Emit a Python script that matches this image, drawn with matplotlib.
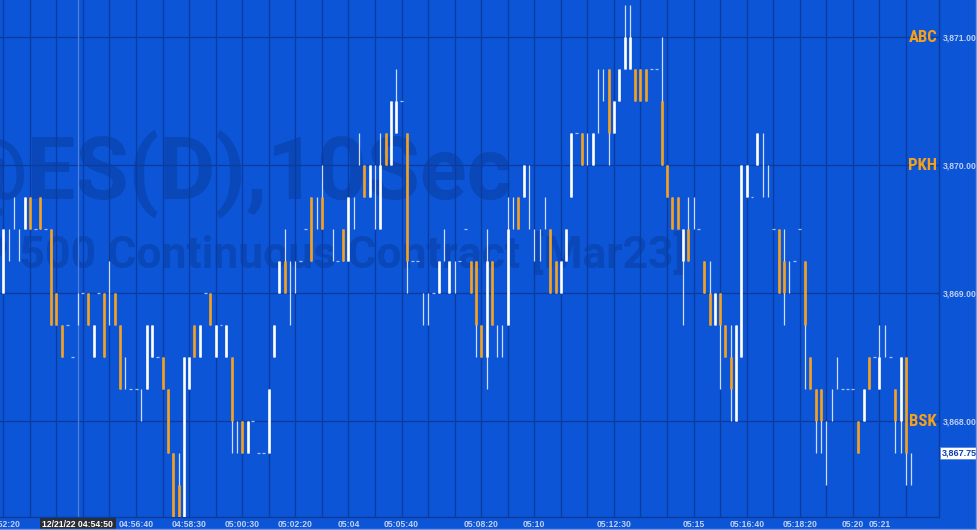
import matplotlib
matplotlib.use("Agg")
import matplotlib.pyplot as plt
import numpy as np
from matplotlib.lines import Line2D

nan = float("nan")

# ---------------- data (10-second bars, @ES) ----------------
opens = [
    3869.00, 3869.25, 3869.50, 3869.50, 3869.50, 3869.75, 3869.50, 3869.75, 3869.50, 3869.50,
    3869.00, 3868.75, 3868.75, 3868.50, 3868.75, 3869.00, 3869.00, 3868.50, 3869.00, 3869.00,
    3869.00, 3869.00, 3868.75, 3868.25, 3868.25, 3868.25, 3868.25, 3868.25, 3868.50, 3868.50,
    3868.50, 3868.25, 3867.75, 3867.50, 3867.25, 3868.25, 3868.75, 3868.50, 3869.00, 3869.00,
    3868.50, 3868.75, 3868.50, 3868.50, 3868.00, 3868.00, 3867.75, 3868.00, 3867.75, 3867.75,
    3867.75, 3868.50, 3869.00, 3869.25, 3869.25, 3869.25, 3869.25, 3869.50, 3869.75, 3869.75,
    3869.75, nan,     3869.50, 3869.25, 3869.50, 3869.25, 3869.75, 3870.25, 3870.00, 3869.75,
    3870.00, 3869.50, 3870.25, 3870.00, 3870.25, 3870.50, 3870.25, 3869.25, 3869.25, 3869.00,
    3869.00, 3869.00, 3869.00, 3869.50, 3869.00, 3869.25, 3869.25, 3869.50, 3869.25, 3869.25,
    3868.75, 3868.50, 3869.25, 3868.75, 3868.75, 3868.75, 3869.75, 3869.75, 3869.75, 3870.00,
    3869.50, 3869.50, 3869.75, 3869.50, 3869.25, 3869.00, 3869.25, 3869.75, 3870.25, 3870.25,
    3870.25, 3870.00, 3870.75, 3870.75, 3870.75, 3870.25, 3870.50, 3870.75, 3870.75, 3870.75,
    3870.75, 3870.75, 3870.75, 3870.75, 3870.50, 3870.00, 3869.75, 3869.75, 3869.25, 3869.50,
    3869.75, 3869.50, 3869.25, 3869.00, 3868.75, 3869.00, 3868.75, 3868.50, 3868.00, 3868.50,
    3869.75, 3869.75, 3870.00, 3870.25, 3870.00, 3869.50, 3869.50, 3869.25, 3869.25, 3869.25,
    3869.50, 3869.25, 3868.50, 3868.25, 3868.25, 3868.00, 3868.25, 3868.50, 3868.25, 3868.25,
    3868.25, 3868.00, 3868.00, 3868.50, 3868.50, 3868.25, 3868.75, 3868.50, 3868.25, 3868.00,
    3868.50, 3867.75,
]
highs = [
    3869.50, 3869.50, 3869.75, 3869.50, 3869.75, 3869.75, 3869.50, 3869.75, 3869.50, 3869.50,
    3869.00, 3868.75, 3868.75, 3868.50, 3869.00, 3869.00, 3869.00, 3868.75, 3869.00, 3869.00,
    3869.25, 3869.00, 3868.75, 3868.50, 3868.25, 3868.25, 3868.25, 3868.75, 3868.75, 3868.50,
    3868.50, 3868.25, 3867.75, 3867.75, 3868.50, 3868.50, 3868.75, 3868.75, 3869.00, 3869.00,
    3868.75, 3868.75, 3868.75, 3868.50, 3868.00, 3868.00, 3868.00, 3868.00, 3867.75, 3867.75,
    3868.25, 3868.75, 3869.25, 3869.50, 3869.25, 3869.25, 3869.25, 3869.50, 3869.75, 3869.75,
    3870.00, nan,     3869.50, 3869.25, 3869.50, 3869.75, 3869.75, 3870.25, 3870.00, 3870.00,
    3870.00, 3870.25, 3870.25, 3870.50, 3870.75, 3870.50, 3870.25, 3869.25, 3869.25, 3869.00,
    3869.00, 3869.00, 3869.25, 3869.50, 3869.25, 3869.25, 3869.25, 3869.50, 3869.25, 3869.25,
    3868.75, 3869.50, 3869.25, 3868.75, 3868.75, 3869.75, 3869.75, 3869.75, 3870.00, 3870.00,
    3869.50, 3869.50, 3869.75, 3869.50, 3869.25, 3869.25, 3869.50, 3870.25, 3870.25, 3870.25,
    3870.25, 3870.25, 3870.75, 3870.75, 3870.75, 3870.50, 3870.75, 3871.25, 3871.25, 3870.75,
    3870.75, 3870.75, 3870.75, 3870.75, 3871.00, 3870.00, 3869.75, 3869.75, 3869.50, 3869.75,
    3869.75, 3869.50, 3869.25, 3869.25, 3869.00, 3869.00, 3868.75, 3868.75, 3868.75, 3870.00,
    3870.00, 3869.75, 3870.25, 3870.25, 3870.00, 3869.50, 3869.50, 3869.50, 3869.25, 3869.25,
    3869.50, 3869.25, 3868.50, 3868.25, 3868.25, 3868.00, 3868.25, 3868.50, 3868.25, 3868.25,
    3868.25, 3868.00, 3868.25, 3868.50, 3868.50, 3868.75, 3868.75, 3868.50, 3868.25, 3868.50,
    3868.50, 3867.75,
]
lows = [
    3869.00, 3869.25, 3869.50, 3869.25, 3869.50, 3869.50, 3869.50, 3869.50, 3869.50, 3868.75,
    3868.75, 3868.50, 3868.75, 3868.50, 3868.75, 3869.00, 3868.75, 3868.50, 3869.00, 3868.50,
    3868.75, 3868.75, 3868.25, 3868.25, 3868.25, 3868.25, 3868.00, 3868.25, 3868.50, 3868.50,
    3868.25, 3867.75, 3867.25, 3867.25, 3867.25, 3868.25, 3868.50, 3868.50, 3869.00, 3868.75,
    3868.50, 3868.75, 3868.50, 3867.75, 3867.75, 3867.75, 3867.75, 3868.00, 3867.75, 3867.75,
    3867.75, 3868.50, 3869.00, 3869.00, 3868.75, 3869.00, 3869.25, 3869.50, 3869.25, 3869.50,
    3869.50, nan,     3869.25, 3869.25, 3869.25, 3869.25, 3869.50, 3870.00, 3869.75, 3869.75,
    3869.50, 3869.50, 3870.00, 3870.00, 3870.25, 3870.50, 3869.00, 3869.25, 3869.25, 3868.75,
    3868.75, 3869.00, 3869.00, 3869.25, 3869.00, 3869.00, 3869.25, 3869.50, 3869.00, 3868.50,
    3868.50, 3868.25, 3868.75, 3868.50, 3868.50, 3868.75, 3869.50, 3869.50, 3869.75, 3869.50,
    3869.25, 3869.25, 3869.50, 3869.00, 3869.00, 3869.00, 3869.25, 3869.75, 3870.25, 3870.00,
    3870.00, 3870.00, 3870.25, 3870.50, 3870.00, 3870.25, 3870.50, 3870.75, 3870.75, 3870.50,
    3870.50, 3870.50, 3870.75, 3870.75, 3870.00, 3869.75, 3869.50, 3869.50, 3868.75, 3869.25,
    3869.50, 3869.50, 3869.00, 3868.75, 3868.75, 3868.25, 3868.50, 3868.00, 3868.00, 3868.50,
    3869.75, 3869.75, 3870.00, 3869.75, 3869.75, 3869.50, 3869.00, 3868.75, 3869.00, 3869.25,
    3869.50, 3868.25, 3868.25, 3867.75, 3867.75, 3867.50, 3868.00, 3868.25, 3868.25, 3868.25,
    3868.25, 3867.75, 3868.00, 3868.25, 3868.50, 3868.25, 3868.50, 3868.50, 3867.75, 3867.75,
    3867.50, 3867.50,
]
closes = [
    3869.50, 3869.25, 3869.50, 3869.50, 3869.75, 3869.50, 3869.50, 3869.50, 3869.50, 3868.75,
    3868.75, 3868.50, 3868.75, 3868.50, 3868.75, 3869.00, 3868.75, 3868.75, 3869.00, 3868.50,
    3869.00, 3868.75, 3868.25, 3868.25, 3868.25, 3868.25, 3868.25, 3868.75, 3868.75, 3868.50,
    3868.25, 3867.75, 3867.25, 3867.25, 3868.50, 3868.50, 3868.50, 3868.75, 3869.00, 3868.75,
    3868.75, 3868.75, 3868.75, 3868.00, 3868.00, 3867.75, 3868.00, 3868.00, 3867.75, 3867.75,
    3868.25, 3868.75, 3869.25, 3869.00, 3869.25, 3869.25, 3869.25, 3869.50, 3869.25, 3869.75,
    3869.50, nan,     3869.50, 3869.25, 3869.25, 3869.75, 3869.75, 3870.25, 3869.75, 3870.00,
    3870.00, 3870.00, 3870.00, 3870.50, 3870.50, 3870.50, 3869.25, 3869.25, 3869.25, 3869.00,
    3869.00, 3869.00, 3869.25, 3869.50, 3869.25, 3869.25, 3869.25, 3869.50, 3869.00, 3868.75,
    3868.50, 3869.25, 3868.75, 3868.75, 3868.75, 3869.50, 3869.75, 3869.50, 3870.00, 3870.00,
    3869.50, 3869.50, 3869.75, 3869.00, 3869.00, 3869.25, 3869.50, 3870.25, 3870.25, 3870.00,
    3870.25, 3870.25, 3870.75, 3870.75, 3870.25, 3870.50, 3870.75, 3871.00, 3871.00, 3870.50,
    3870.50, 3870.50, 3870.75, 3870.75, 3870.00, 3869.75, 3869.50, 3869.50, 3869.50, 3869.25,
    3869.75, 3869.50, 3869.00, 3868.75, 3869.00, 3868.75, 3868.50, 3868.25, 3868.75, 3870.00,
    3870.00, 3869.75, 3870.25, 3870.25, 3870.00, 3869.50, 3869.00, 3869.00, 3869.25, 3869.25,
    3869.50, 3868.75, 3868.25, 3868.00, 3868.00, 3868.00, 3868.25, 3868.50, 3868.25, 3868.25,
    3868.25, 3867.75, 3868.25, 3868.25, 3868.50, 3868.50, 3868.75, 3868.50, 3868.00, 3868.50,
    3867.75, 3867.75,
]

time_tick_bars = [0, 14, 25, 35, 45, 55, 65, 75, 90, 100, 115, 130, 140, 150, 160, 165]
time_tick_labels = ["04:52:20", "12/21/22 04:54:50", "04:56:40", "04:58:30", "05:00:30",
                    "05:02:20", "05:04", "05:05:40", "05:08:20", "05:10", "05:12:30",
                    "05:15", "05:16:40", "05:18:20", "05:20", "05:21"]
price_ticks = [3868.0, 3869.0, 3870.0, 3871.0]
price_tick_labels = ["3,868.00", "3,869.00", "3,870.00", "3,871.00"]
last_price = 3867.75
level_names = ["ABC", "PKH", "BSK"]
level_prices = [3871.0, 3870.0, 3868.0]
date_bar = 14
title_line1 = "@ES(D),10Sec"
title_line2 = "S&P 500 Continuous Contract [Mar23]"

# ---------------- style ----------------
BG = "#0b55d6"
GRID = "#0b3b9c"
WATER = "#0a47b9"
ORANGE = "#f6a11c"
WHITE = "#ffffff"
WICK = "#cfdcf8"
FLAT = "#a9c1ef"
AXTXT = "#c3d0ee"

W, H = 978, 530
AX_R, AX_B = 939, 517
X0, STEP = 3.3, 5.31

fig = plt.figure(figsize=(W / 100, H / 100), dpi=100, facecolor=BG)
ax = fig.add_axes([0, (H - AX_B) / H, AX_R / W, AX_B / H], facecolor=BG)
ax.set_xlim(-X0 / STEP, (AX_R - X0) / STEP)
ax.set_ylim(3867.25, 3871 + 37 / 128)
ax.set_axisbelow(True)

o = np.array(opens); h = np.array(highs); l = np.array(lows); c = np.array(closes)
x = np.arange(len(o))
valid = ~np.isnan(o)

# grid
ax.xaxis.remove_overlapping_locs = False
ax.set_xticks(np.arange(0, 175, 5), minor=True)
ax.grid(which="minor", axis="x", color=GRID, lw=0.9)
ax.set_yticks(price_ticks)
ax.set_yticklabels(price_tick_labels)
ax.grid(which="major", axis="y", color=GRID, lw=0.9)
ax.axvline(date_bar, color="#4f7fdc", lw=0.9, zorder=0.6)

# watermark
ax.text(513 / AX_R, 1 - 200 / AX_B, title_line1, transform=ax.transAxes,
        ha="right", va="baseline", fontsize=62.5, fontweight="bold",
        family=["Roboto", "DejaVu Sans"], color=WATER, zorder=0.3, clip_on=True)
ax.text(686 / AX_R, 1 - 268 / AX_B, title_line2, transform=ax.transAxes,
        ha="right", va="baseline", fontsize=32, fontweight="bold",
        family=["Roboto", "DejaVu Sans"], color=WATER, zorder=0.3, clip_on=True)

# bars
rng = valid & (h > l)
ax.vlines(x[rng], l[rng], h[rng], colors=WICK, lw=0.9, zorder=2)
flat = valid & (h == l)
ax.hlines(h[flat], x[flat] - 0.28, x[flat] + 0.28, colors=FLAT, lw=0.9, zorder=2)
up = valid & (c > o)
dn = valid & (c < o)
ax.vlines(x[up], o[up], c[up], colors=WHITE, lw=1.9, zorder=3)
ax.vlines(x[dn], c[dn], o[dn], colors=ORANGE, lw=1.9, zorder=3)

# level labels
for name, p in zip(level_names, level_prices):
    ax.text(937 / AX_R, p, name, transform=ax.get_yaxis_transform(),
            ha="right", va="center", fontsize=12, fontweight="bold",
            family=["Roboto Condensed", "Liberation Sans Narrow", "Roboto", "DejaVu Sans"],
            color=ORANGE, zorder=4)

# axes cosmetics
for s in ["top", "left"]:
    ax.spines[s].set_visible(False)
for s in ["right", "bottom"]:
    ax.spines[s].set_color(GRID)
    ax.spines[s].set_linewidth(1.0)

ax.yaxis.tick_right()
ax.tick_params(axis="y", which="both", length=0, pad=3, labelsize=6.2, labelcolor=AXTXT)
ax.set_xticks(time_tick_bars)
ax.set_xticklabels(time_tick_labels)
ax.tick_params(axis="x", which="both", length=0, pad=2, labelsize=6.2, labelcolor=AXTXT)
for lab in ax.get_xticklabels() + ax.get_yticklabels():
    lab.set_family(["Liberation Sans", "DejaVu Sans"])
    lab.set_fontweight("bold")
dl = ax.get_xticklabels()[1]
dl.set_color("white")
dl.set_bbox(dict(boxstyle="square,pad=0.3", fc="#2b2e35", ec="none"))

# last price box
ax.text(1.003, last_price, "3,867.75", transform=ax.get_yaxis_transform(),
        ha="left", va="center", fontsize=6.5, fontweight="bold",
        family=["Liberation Sans", "DejaVu Sans"], color="#0a3fae", clip_on=False,
        bbox=dict(boxstyle="square,pad=0.2", fc="white", ec="#5b86e0", lw=0.6), zorder=5)

# window borders
fig.add_artist(Line2D([976.5 / W, 976.5 / W], [0, 1], color="#6e98ee", lw=1.0))
fig.add_artist(Line2D([0, 1], [1.5 / H, 1.5 / H], color="#6e98ee", lw=1.0))

fig.savefig("out.png", dpi=100, facecolor=BG)
